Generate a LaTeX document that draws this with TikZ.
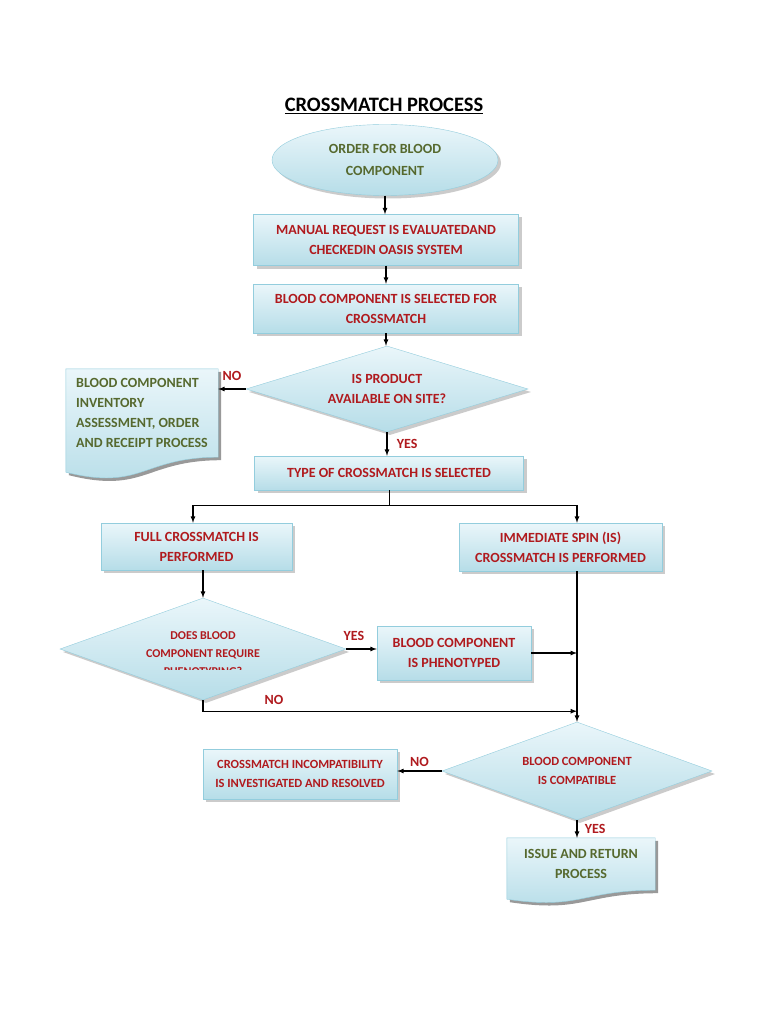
\documentclass[tikz,border=0pt]{standalone}
\usepackage{fontspec}
\setmainfont{Carlito}
\usetikzlibrary{shapes.geometric,shadows,calc,backgrounds}

\definecolor{boxred}{HTML}{B01A1E}
\definecolor{boxgreen}{HTML}{56692E}
\definecolor{boxline}{HTML}{93CDDD}
\definecolor{boxtop}{HTML}{EAF6FA}
\definecolor{boxbot}{HTML}{B6DDE8}

\tikzset{
	shadebox/.style={draw=boxline, top color=boxtop, bottom color=boxbot,
		drop shadow={shadow xshift=3pt, shadow yshift=-3pt, fill=black!40}},
	process/.style={shadebox, rectangle, align=center, inner sep=0pt, text=boxred,
		font=\fontsize{14}{20}\selectfont\bfseries},
	decision/.style={shadebox, diamond, aspect=2.8, align=center, inner sep=0pt, text=boxred,
		font=\fontsize{14}{20}\selectfont\bfseries},
	docbox/.style={rectangle, inner sep=0pt, text=boxgreen,
		font=\fontsize{14}{20}\selectfont\bfseries},
	answer/.style={text=boxred, font=\fontsize{14}{16}\selectfont\bfseries},
	arr/.style={-latex, line width=1.2pt}
}

% wavy bottom: node, drop of left end, drop of control point
\newcommand{\docshape}[3]{%
	\fill[black!40, transform canvas={xshift=3pt,yshift=-3pt}] (#1.north west) -- (#1.north east) -- (#1.south east)
		.. controls (#1.south) and ($(#1.south)+(0,#3)$) .. ($(#1.south west)+(0,#2)$) -- cycle;
	\draw[boxline, top color=boxtop, bottom color=boxbot] (#1.north west) -- (#1.north east) -- (#1.south east)
		.. controls (#1.south) and ($(#1.south)+(0,#3)$) .. ($(#1.south west)+(0,#2)$) -- cycle;
}

\begin{document}
\begin{tikzpicture}[x=1pt,y=-1pt]
	\useasboundingbox (0,0) rectangle (768,1024);

	\node[font=\fontsize{20.5}{24}\selectfont\bfseries] (title) at (384,106) {\underline{CROSSMATCH PROCESS}};

	\node[shadebox, ellipse, minimum width=226pt, minimum height=71pt, align=center, inner sep=0pt,
		text=boxgreen, font=\fontsize{14}{22}\selectfont\bfseries] (order) at (385,160) {ORDER FOR BLOOD\\COMPONENT};
	\node[process, minimum width=265pt, minimum height=51pt] (request) at (386,240) {MANUAL REQUEST IS EVALUATEDAND\\CHECKEDIN OASIS SYSTEM};
	\node[process, minimum width=265pt, minimum height=49pt] (select) at (386,308.5) {BLOOD COMPONENT IS SELECTED FOR\\CROSSMATCH};
	\node[decision, minimum width=282pt, minimum height=86pt] (avail) at (387,389) {IS PRODUCT\\AVAILABLE ON SITE?};
	\node[docbox, align=left, minimum width=152pt, minimum height=88pt] (inventory) at (142,413) {BLOOD COMPONENT\\INVENTORY\\ASSESSMENT, ORDER\\AND RECEIPT PROCESS\hspace{2pt}};
	\node[process, minimum width=269pt, minimum height=34pt] (type) at (389,473) {TYPE OF CROSSMATCH IS SELECTED};
	\node[process, minimum width=191pt, minimum height=47pt] (full) at (196.5,546.5) {FULL CROSSMATCH IS\\PERFORMED};
	\node[process, minimum width=203pt, minimum height=48pt] (spin) at (560.5,547) {IMMEDIATE SPIN (IS)\\CROSSMATCH IS PERFORMED};
	\node[decision, minimum width=286pt, minimum height=102pt] (phen) at (203,649) {};
	\begin{scope}
		\clip (60,600) rectangle (346,669);
		\node[align=center, text=boxred, font=\fontsize{12}{18}\selectfont\bfseries] (phentext) at (203,654) {DOES BLOOD\\COMPONENT REQUIRE\\PHENOTYPING?};
	\end{scope}
	\node[process, minimum width=154pt, minimum height=54pt] (typed) at (454,653) {BLOOD COMPONENT\\IS PHENOTYPED};
	\node[decision, minimum width=270pt, minimum height=98pt, font=\fontsize{12.5}{19}\selectfont\bfseries] (compat) at (577,771) {BLOOD COMPONENT\\IS COMPATIBLE};
	\node[process, minimum width=194pt, minimum height=50pt, font=\fontsize{12.5}{19}\selectfont\bfseries] (incompat) at (300,774) {CROSSMATCH INCOMPATIBILITY\\IS INVESTIGATED AND RESOLVED};
	\node[docbox, align=center, minimum width=148pt, minimum height=52pt] (issue) at (581,864) {ISSUE AND RETURN\\PROCESS};

	\begin{scope}[on background layer]
		\fill[white] (0,0) rectangle (768,1024);
		\docshape{inventory}{15}{34}
		\docshape{issue}{9}{20}
	\end{scope}

	% main column
	\draw[arr] (order.south) -- (order.south |- request.north);
	\draw[arr] (request.south) -- (request.south |- select.north);
	\draw[arr] (select.south) -- (select.south |- avail.north);
	\draw[arr] (avail.west) -- (avail.west -| inventory.east) node[answer, midway, above, yshift=4pt] {NO};
	\draw[arr] (avail.south) -- (avail.south |- type.north) node[answer, midway, right, xshift=6pt] {YES};

	% two kinds of crossmatch
	\draw (type.south) -- ++(0,15) coordinate (split);
	\draw[arr] (split) -| ([xshift=-3.5pt]full.north);
	\draw[arr] (split) -| (compat.north |- spin.north);
	\draw[arr] (compat.north |- spin.south) -- (compat.north);
	\draw[arr] (full.south -| phen.north) -- (phen.north);
	\draw[arr] (phen.east) -- (phen.east -| typed.west) node[answer, pos=0.25, above, yshift=4pt] {YES};
	\draw[arr] (typed.east) -- (typed.east -| compat.north);
	\draw[arr] (phen.south) -- ++(0,11) coordinate (nobend) -- (nobend -| compat.north) node[answer, pos=0.19, above, yshift=3pt] {NO};

	% compatibility
	\draw[arr] (compat.west) -- (compat.west -| incompat.east) node[answer, midway, above] {NO};
	\draw[arr] (compat.south) -- (compat.south |- issue.north) node[answer, midway, right, xshift=4pt] {YES};
\end{tikzpicture}
\end{document}
